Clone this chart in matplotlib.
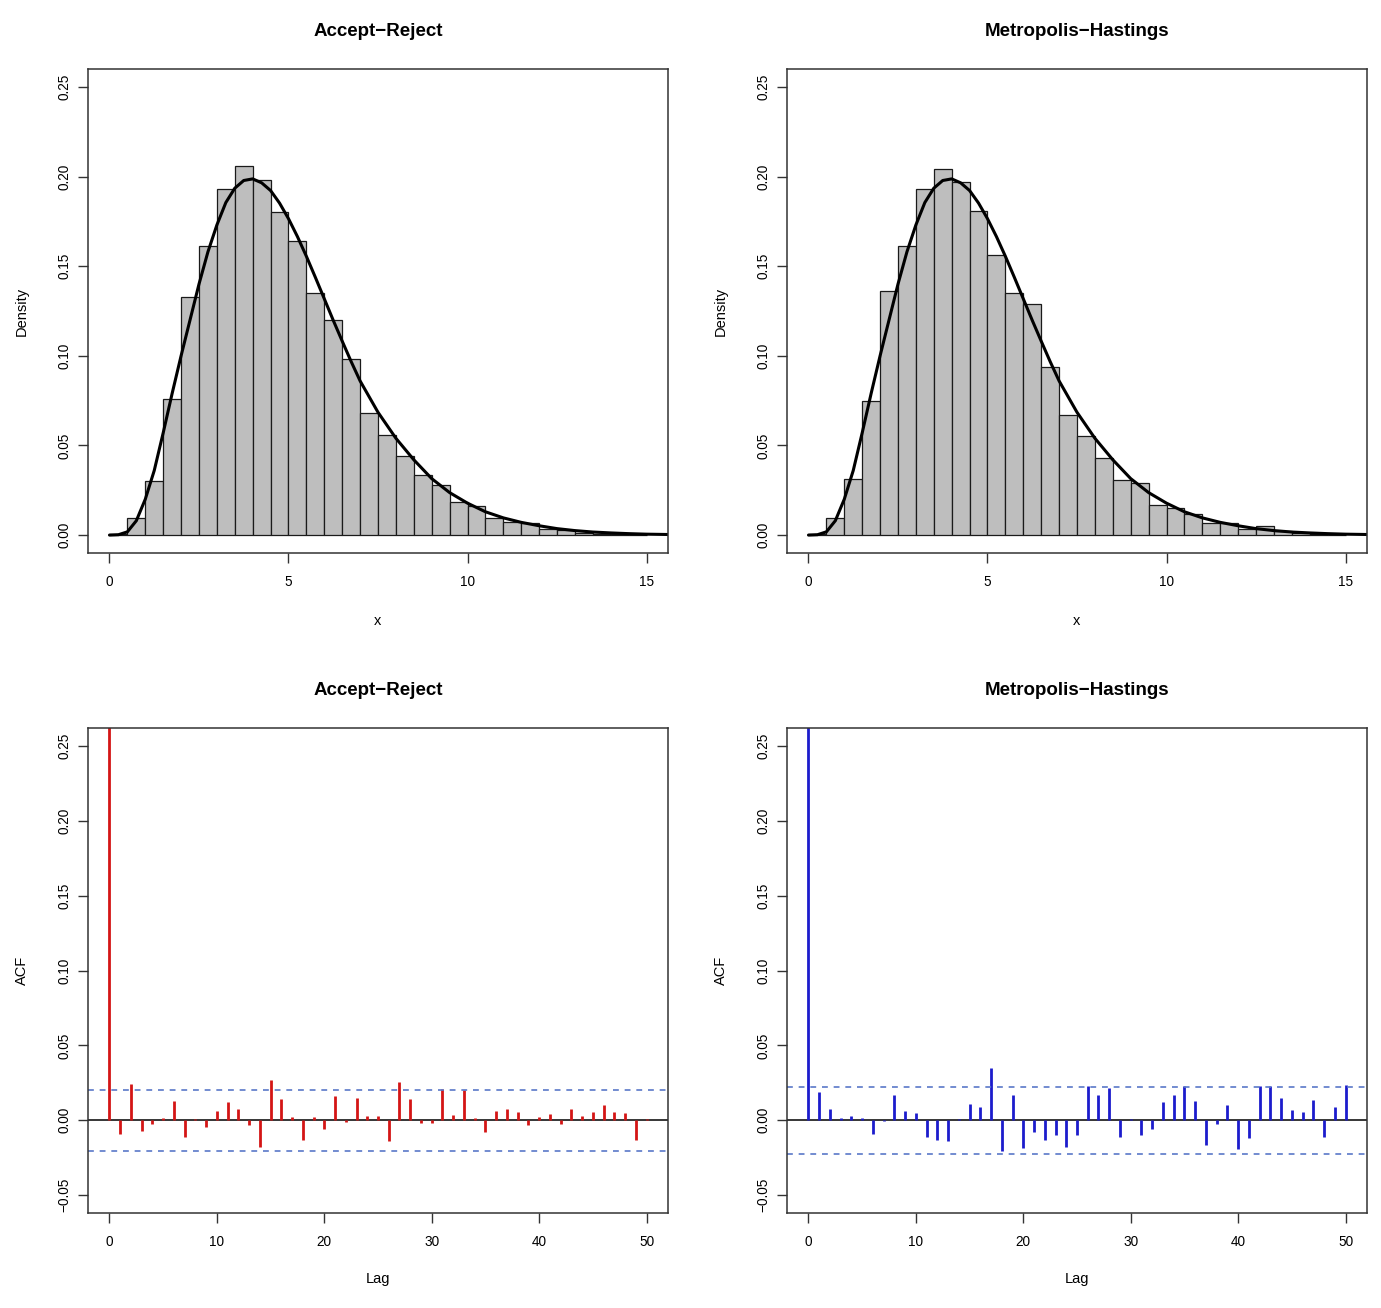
import numpy as np
import matplotlib
matplotlib.use("Agg")
import matplotlib.pyplot as plt

plt.rcParams['font.family'] = ['Liberation Sans', 'DejaVu Sans']

# histogram bins (width 0.5 from 0 to 15)
bin_left = np.arange(0, 15, 0.5)

# density of each bin
ar_density = [0.0004, 0.0094, 0.0302, 0.076, 0.133, 0.161, 0.193, 0.206, 0.198, 0.180,
              0.164, 0.135, 0.120, 0.0985, 0.068, 0.056, 0.044, 0.0335, 0.0278, 0.0187,
              0.0163, 0.0094, 0.0074, 0.0068, 0.0035, 0.0026, 0.0013, 0.0008, 0.0004, 0.0002]
mh_density = [0.0005, 0.0098, 0.0313, 0.075, 0.136, 0.161, 0.193, 0.204, 0.197, 0.181,
              0.1565, 0.135, 0.129, 0.094, 0.067, 0.055, 0.043, 0.031, 0.029, 0.017,
              0.015, 0.0115, 0.0068, 0.007, 0.0035, 0.0048, 0.0024, 0.0012, 0.0006, 0.0003]

# target density curve
curve_x = [0, 0.25, 0.5, 0.75, 1.0, 1.25, 1.5, 1.75, 2.0, 2.25, 2.5, 2.75, 3.0, 3.25, 3.5,
           3.75, 4.0, 4.25, 4.5, 4.75, 5.0, 5.25, 5.5, 5.75, 6.0, 6.25, 6.5, 6.75, 7.0, 7.5,
           8.0, 8.5, 9.0, 9.5, 10.0, 10.5, 11.0, 11.5, 12.0, 12.5, 13.0, 13.5, 14.0, 14.5,
           15.0, 16.0]
curve_y = [0, 0.0002, 0.0018, 0.008, 0.020, 0.036, 0.057, 0.079, 0.100, 0.120, 0.140, 0.158,
           0.173, 0.1855, 0.1935, 0.1978, 0.1987, 0.1965, 0.1922, 0.1852, 0.1765, 0.1665,
           0.1555, 0.1438, 0.1318, 0.1198, 0.1082, 0.0968, 0.086, 0.0685, 0.054, 0.042,
           0.0315, 0.0237, 0.0178, 0.013, 0.0096, 0.0071, 0.0052, 0.0036, 0.0025, 0.0017,
           0.0012, 0.0008, 0.0005, 0.0002]

# autocorrelations, lags 0..50
lags = np.arange(0, 51)
ar_acf = [1.0, -0.0089, 0.0242, -0.0073, -0.0024, 0.0013, 0.0129, -0.011, 0.0009, -0.0047,
          0.0064, 0.012, 0.0076, -0.0029, -0.018, 0.0267, 0.014, 0.002, -0.0129, 0.0022,
          -0.0062, 0.0164, -0.001, 0.0149, 0.0027, 0.0027, -0.014, 0.0256, 0.014, -0.0018,
          -0.0018, 0.0211, 0.0033, 0.0204, 0.0013, -0.0078, 0.006, 0.0078, 0.0058, -0.0031,
          0.0018, 0.004, -0.0027, 0.0078, 0.0029, 0.0053, 0.010, 0.0058, 0.0049, -0.0129,
          0.0007]
mh_acf = [1.0, 0.0189, 0.0078, 0.0016, 0.0031, 0.0016, -0.0091, -0.0007, 0.0171, 0.006,
          0.0049, -0.0113, -0.0129, -0.014, 0.0011, 0.0111, 0.0089, 0.0349, -0.0207, 0.0167,
          -0.0189, -0.0078, -0.0129, -0.010, -0.0178, -0.010, 0.0227, 0.0167, 0.0216, -0.0111,
          0.0011, -0.0102, -0.0062, 0.012, 0.0171, 0.0227, 0.0131, -0.0169, -0.0024, 0.0104,
          -0.0191, -0.0118, 0.0227, 0.0231, 0.0149, 0.0067, 0.0056, 0.0138, -0.0111, 0.0089,
          0.0238]
ar_ci = 0.0205
mh_ci = 0.0225

fig = plt.figure(figsize=(13.81, 13.08), dpi=100)

W, H = 1381, 1308
def make_ax(left, top, right, bottom):
    return fig.add_axes([left / W, 1 - bottom / H, (right - left) / W, (bottom - top) / H])

ax_h1 = make_ax(88, 69, 668, 553)
ax_h2 = make_ax(787, 69, 1367, 553)
ax_a1 = make_ax(88, 728, 668, 1213)
ax_a2 = make_ax(787, 728, 1367, 1213)


def r_style(ax, xlab, ylab, xlabel_y, ylabel_x):
    for s in ax.spines.values():
        s.set_color('#333333')
        s.set_linewidth(1.1)
    ax.tick_params(direction='out', length=7, width=1, color='#333333', labelsize=9.8)
    ax.tick_params(axis='x', pad=9)
    ax.tick_params(axis='y', pad=5, labelrotation=90)
    for lab in ax.get_yticklabels():
        lab.set_va('center')
    ax.set_xlabel(xlab, fontsize=10.5)
    ax.set_ylabel(ylab, fontsize=10.5)
    ax.xaxis.set_label_coords(0.5, xlabel_y)
    ax.yaxis.set_label_coords(ylabel_x, 0.5)
    ax.xaxis.label.set_va('center')
    ax.yaxis.label.set_va('center')


for ax, dens, title in [(ax_h1, ar_density, 'Accept\u2212Reject'),
                        (ax_h2, mh_density, 'Metropolis\u2212Hastings')]:
    ax.bar(bin_left, dens, width=0.5, align='edge', color='#bebebe',
           edgecolor='#1a1a1a', linewidth=0.9)
    ax.plot(curve_x, curve_y, color='black', lw=2.2, solid_capstyle='round',
            solid_joinstyle='round')
    ax.set_xlim(-0.6, 15.6)
    ax.set_ylim(-0.01, 0.26)
    ax.set_xticks([0, 5, 10, 15])
    ax.set_yticks([0, 0.05, 0.10, 0.15, 0.20, 0.25])
    ax.set_yticklabels(['0.00', '0.05', '0.10', '0.15', '0.20', '0.25'])
    ax.set_title(title, fontsize=13.5, fontweight='bold', pad=24)
    r_style(ax, 'x', 'Density', -0.14, -0.114)

for ax, acf, ci, col, title in [(ax_a1, ar_acf, ar_ci, '#d41515', 'Accept\u2212Reject'),
                                (ax_a2, mh_acf, mh_ci, '#1c1ccc', 'Metropolis\u2212Hastings')]:
    ax.axhline(0, color='black', lw=1.1)
    ax.vlines(lags, 0, acf, colors=col, lw=2)
    for c in (ci, -ci):
        ax.axhline(c, color='#5a78c8', lw=1.2, linestyle=(0, (3.5, 3.5)))
    ax.set_xlim(-2, 52)
    ax.set_ylim(-0.062, 0.262)
    ax.set_xticks([0, 10, 20, 30, 40, 50])
    ax.set_yticks([-0.05, 0, 0.05, 0.10, 0.15, 0.20, 0.25])
    ax.set_yticklabels(['\u22120.05', '0.00', '0.05', '0.10', '0.15', '0.20', '0.25'])
    ax.set_title(title, fontsize=13.5, fontweight='bold', pad=24)
    r_style(ax, 'Lag', 'ACF', -0.136, -0.114)

fig.savefig('out.png', dpi=100)
